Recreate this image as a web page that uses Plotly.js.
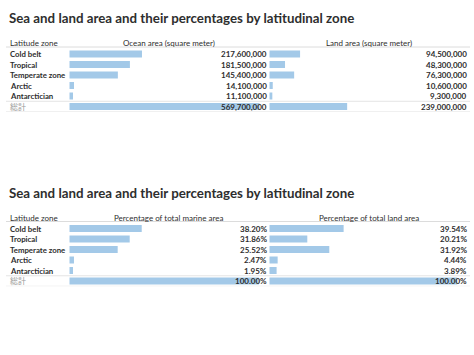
<!DOCTYPE html>
<html>
<head>
<meta charset="utf-8">
<script src="https://cdn.plot.ly/plotly-3.0.1.min.js"></script>
<style>html,body{margin:0;padding:0;background:#fff;}#chart{width:474px;height:355px;}</style>
</head>
<body>
<div id="chart"></div>
<script>
const zones = ['Cold belt','Tropical','Temperate zone','Arctic','Antarctician','総計'];
const oceanArea = [217600000,181500000,145400000,14100000,11100000,569700000];
const landArea = [94500000,48300000,76300000,10600000,9300000,239000000];
const oceanPct = [38.20,31.86,25.52,2.47,1.95,100.00];
const landPct = [39.54,20.21,31.92,4.44,3.89,100.00];
const titleText = 'Sea and land area and their percentages by latitudinal zone';
const rowHeader = 'Latitude zone';
const headersTop = ['Ocean area (square meter)','Land area (square meter)'];
const headersBottom = ['Percentage of total marine area','Percentage of total land area'];

const W = 474, H = 355;
const BAR = '#a3c9e8';
const TXT = '#2e2e2e';
const FONT = 'Lato, "Noto Sans CJK JP", sans-serif';
const px = v => v / W;
const py = v => 1 - v / H;

const fmtNum = v => v.toLocaleString('en-US');
const fmtPct = v => v.toFixed(2) + '%';

const colA = [69.3, 268];
const colB = [269.3, 468];
const ROW = 10.5;

function block(off, ya, xa, xb, valsA, valsB, fmt, rngA, rngB, headers) {
  const rowTop = 54 + off - ROW / 2;
  const rowBot = 54 + off + 5 * ROW + ROW / 2;
  const yDom = [py(rowBot), py(rowTop)];
  const axes = {};
  const yk = ya === 'y' ? 'yaxis' : 'yaxis' + ya.slice(1);
  const xak = xa === 'x' ? 'xaxis' : 'xaxis' + xa.slice(1);
  const xbk = 'xaxis' + xb.slice(1);
  axes[yk] = {domain: yDom, type: 'category', categoryarray: zones, range: [5.5, -0.5],
    visible: false, showgrid: false, zeroline: false, fixedrange: true};
  axes[xak] = {domain: [px(colA[0]), px(colA[1])], range: rngA, anchor: ya, visible: false,
    showgrid: false, zeroline: false};
  axes[xbk] = {domain: [px(colB[0]), px(colB[1])], range: rngB, anchor: ya, visible: false,
    showgrid: false, zeroline: false};
  const traces = [
    {type: 'bar', orientation: 'h', x: valsA, y: zones, xaxis: xa, yaxis: ya, width: 0.66,
      marker: {color: BAR, line: {width: 0}}, hoverinfo: 'none', showlegend: false},
    {type: 'bar', orientation: 'h', x: valsB, y: zones, xaxis: xb, yaxis: ya, width: 0.66,
      marker: {color: BAR, line: {width: 0}}, hoverinfo: 'none', showlegend: false}
  ];
  const ann = [];
  ann.push({text: '<b>' + titleText + '</b>', xref: 'paper', yref: 'paper', x: px(7), y: py(18 + off),
    xanchor: 'left', yanchor: 'middle', showarrow: false, font: {family: FONT, size: 13.3, color: TXT}});
  ann.push({text: rowHeader, xref: 'paper', yref: 'paper', x: px(8), y: py(43 + off),
    xanchor: 'left', yanchor: 'middle', showarrow: false, font: {family: FONT, size: 8, color: TXT}});
  ann.push({text: headers[0], xref: 'paper', yref: 'paper', x: px((colA[0] + colA[1]) / 2), y: py(43 + off),
    xanchor: 'center', yanchor: 'middle', showarrow: false, font: {family: FONT, size: 8, color: TXT}});
  ann.push({text: headers[1], xref: 'paper', yref: 'paper', x: px((colB[0] + colB[1]) / 2), y: py(43 + off),
    xanchor: 'center', yanchor: 'middle', showarrow: false, font: {family: FONT, size: 8, color: TXT}});
  zones.forEach((z, i) => {
    const isTotal = i === zones.length - 1;
    ann.push({text: isTotal ? z : '<b>' + z + '</b>', xref: 'paper', yref: ya, x: px(8), y: z,
      xanchor: 'left', yanchor: 'middle', showarrow: false,
      font: {family: FONT, size: isTotal ? 8 : 7.8, color: isTotal ? '#9a9a9a' : TXT}});
    ann.push({text: '<b>' + fmt(valsA[i]) + '</b>', xref: xa + ' domain', yref: ya, x: 1, y: z,
      xanchor: 'right', yanchor: 'middle', showarrow: false, xshift: 1,
      font: {family: FONT, size: 8, color: TXT}});
    ann.push({text: '<b>' + fmt(valsB[i]) + '</b>', xref: xb + ' domain', yref: ya, x: 1, y: z,
      xanchor: 'right', yanchor: 'middle', showarrow: false, xshift: 1,
      font: {family: FONT, size: 8, color: TXT}});
  });
  const shapes = [
    {type: 'line', xref: 'paper', yref: 'paper', x0: px(6), x1: px(470), y0: py(47 + off), y1: py(47 + off),
      line: {color: '#dcdcdc', width: 1}},
    {type: 'line', xref: 'paper', yref: ya, x0: px(6), x1: px(470), y0: 4.5, y1: 4.5,
      line: {color: '#e4e4e4', width: 1}},
    {type: 'line', xref: 'paper', yref: ya, x0: px(6), x1: px(470), y0: 5.5, y1: 5.5,
      line: {color: '#e4e4e4', width: 1}}
  ];
  return {axes, traces, ann, shapes};
}

const upper = block(0, 'y', 'x', 'x2', oceanArea, landArea, fmtNum, [0, 595e6], [0, 610e6], headersTop);
const lower = block(174.5, 'y2', 'x3', 'x4', oceanPct, landPct, fmtPct, [0, 104.8], [0, 105.7], headersBottom);

const layout = Object.assign({
  width: W, height: H, margin: {l: 0, r: 0, t: 0, b: 0}, paper_bgcolor: '#fff', plot_bgcolor: 'rgba(0,0,0,0)',
  showlegend: false, barmode: 'overlay',
  annotations: upper.ann.concat(lower.ann), shapes: upper.shapes.concat(lower.shapes)
}, upper.axes, lower.axes);

Plotly.newPlot('chart', upper.traces.concat(lower.traces), layout, {staticPlot: true, displayModeBar: false});
</script>
</body>
</html>
